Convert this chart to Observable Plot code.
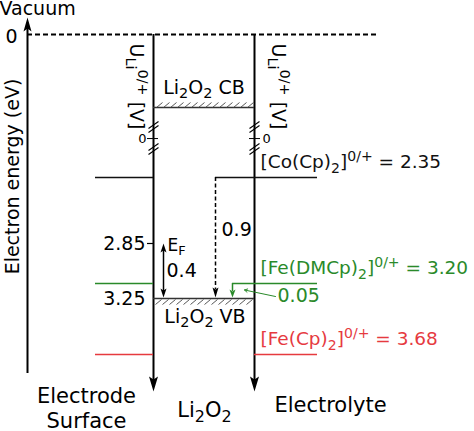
<!DOCTYPE html>
<html><head><meta charset="utf-8">
<script src="https://cdn.jsdelivr.net/npm/d3@7"></script>
<script src="https://cdn.jsdelivr.net/npm/@observablehq/plot@0.6"></script>
<style>html,body{margin:0;padding:0;background:#fff;} #chart{width:474px;height:431px;overflow:hidden}</style>
</head><body><div id="chart"></div>
<script>
// ---------------- data ----------------
const couples = ["[Co(Cp)_{2}]^{0/+}", "[Fe(DMCp)_{2}]^{0/+}", "[Fe(Cp)_{2}]^{0/+}"];
const coupleValues = [2.35, 3.20, 3.68];
const vacuumLevel = 0;
const fermiLevel = 2.85;
const vbLevel = 3.25;
const cbLevel = 1.2;        // schematic position (not labelled in the figure)
const liZero = 1.71;        // schematic position of U_Li = 0 (axis break)
const gapValues = [0.4, 0.9, 0.05];
const yTickValues = [0, 2.85, 3.25];
const yTickLabels = ["0", "2.85", "3.25"];
const columnLabels = ["Electrode", "Surface", "Li_{2}O_{2}", "Electrolyte"];
const bandLabels = ["Li_{2}O_{2} CB", "Li_{2}O_{2} VB"];
const axisTitle = "Electron energy (eV)";
const uLabel = "U_{Li}^{0/+} [V]";
const topLabel = "Vacuum";

// ---------------- layout / style ----------------
const coupleColours = ["#111111", "#2a8a2a", "#e63a3f"];
const GREEN = coupleColours[1];
const X = {axis: 27, electrode: 153, electrolyte: 254, levelL: 95, levelR: 317, vacEnd: 378, ef: 163, dashed: 215, green: 232};
const yDomain = [vacuumLevel, coupleValues[0], fermiLevel, coupleValues[1], vbLevel, coupleValues[2]];
const yRange = [34, 177, 243, 283, 298, 354];
const yAt = d3.scaleLinear().domain(yRange).range(yDomain); // pixel -> energy for layout extents

const levels = couples.map((name, i) => ({name, value: coupleValues[i]}));
const rightStart = [X.dashed, X.green, X.electrolyte];

// custom symbols
const headDown = (hw, len, notch) => ({draw(c) { c.moveTo(0, 0); c.lineTo(-hw, -len); c.lineTo(0, -len + notch); c.lineTo(hw, -len); c.closePath(); }});
const headUp = (hw, len, notch) => ({draw(c) { c.moveTo(0, 0); c.lineTo(-hw, len); c.lineTo(0, len - notch); c.lineTo(hw, len); c.closePath(); }});
const slashAbove = {draw(c) { c.moveTo(0, 0); c.lineTo(6, -5); }};
const slashBelow = {draw(c) { c.moveTo(-1, 6); c.lineTo(5, 1); }};
const breakMark = {draw(c) { c.moveTo(-5, 1); c.lineTo(5, -6); c.moveTo(-5, 5); c.lineTo(5, -2); }};

const hatchX = d3.range(X.electrode + 3, X.electrolyte - 4, 7);

function label(str, px, py, o = {}) {
  return Plot.text([str], {frameAnchor: "top-left", dx: px, dy: py, textAnchor: "start", lineAnchor: "middle", fontSize: 19, ...o});
}

const plot = Plot.plot({
  width: 474, height: 431, margin: 0,
  x: {type: "linear", domain: [0, 474], range: [0, 474], axis: null},
  y: {type: "linear", domain: yDomain, range: yRange, axis: null},
  color: {domain: couples, range: coupleColours},
  style: {fontFamily: "DejaVu Sans", background: "white", color: "black", overflow: "visible"},
  marks: [
    // vacuum level
    Plot.ruleY([vacuumLevel], {x1: X.axis, x2: X.vacEnd, stroke: "black", strokeWidth: 2, strokeDasharray: "5,3"}),
    // energy axis
    Plot.ruleX([X.axis], {y1: yAt(373), y2: yAt(28), stroke: "black", strokeWidth: 2}),
    Plot.dot([X.axis], {x: d => d, y: yAt(17), symbol: headUp(4, 14, 3), r: 5, fill: "black", stroke: "none"}),
    // electrode & electrolyte lines
    Plot.ruleX([X.electrode, X.electrolyte], {y1: vacuumLevel, y2: yAt(380), stroke: "black", strokeWidth: 2}),
    Plot.dot([X.electrode, X.electrolyte], {x: d => d, y: yAt(391), symbol: headDown(4.5, 15, 3), r: 5, fill: "black", stroke: "none"}),
    // axis breaks
    Plot.dot([X.electrode, X.electrolyte], {x: d => d, y: yAt(127), symbol: breakMark, r: 5, fill: "none", stroke: "black", strokeWidth: 1.1}),
    Plot.dot([X.electrode, X.electrolyte], {x: d => d, y: yAt(149), symbol: breakMark, r: 5, fill: "none", stroke: "black", strokeWidth: 1.1}),
    Plot.ruleY([liZero], {x1: X.electrode - 6, x2: X.electrode + 5, stroke: "black", strokeWidth: 1}),
    Plot.ruleY([liZero], {x1: X.electrolyte - 5, x2: X.electrolyte + 6, stroke: "black", strokeWidth: 1}),
    Plot.text([liZero], {x: X.electrode - 7, y: d => d, text: () => "0", textAnchor: "end", fontSize: 13}),
    Plot.text([liZero], {x: X.electrolyte + 8, y: d => d, text: () => "0", textAnchor: "start", fontSize: 13}),
    // Li2O2 bands
    Plot.ruleY([cbLevel, vbLevel], {x1: X.electrode, x2: X.electrolyte, stroke: "#333", strokeWidth: 1.3}),
    Plot.dot(hatchX, {x: d => d, y: cbLevel, symbol: slashAbove, r: 4, fill: "none", stroke: "#444", strokeWidth: 0.9}),
    Plot.dot(hatchX, {x: d => d, y: vbLevel, symbol: slashBelow, r: 4, fill: "none", stroke: "#444", strokeWidth: 0.9}),
    Plot.text([cbLevel], {x: (X.electrode + X.electrolyte) / 2, y: d => d, dy: -20, text: () => bandLabels[0], textAnchor: "middle", fontSize: 19}),
    Plot.text([vbLevel], {x: (X.electrode + X.electrolyte) / 2 + 1, y: d => d, dy: 18, text: () => bandLabels[1], textAnchor: "middle", fontSize: 19}),
    // redox couple levels
    Plot.ruleY(levels, {y: "value", x1: X.levelL, x2: X.electrode, stroke: "name", strokeWidth: 1.6}),
    Plot.ruleY(levels, {y: "value", x1: (d, i) => rightStart[i], x2: X.levelR, stroke: "name", strokeWidth: 1.6}),
    Plot.text(levels, {x: 260, y: "value", dy: -15, text: d => `${d.name} = ${d.value.toFixed(2)}`, fill: "name", textAnchor: "start", fontSize: 18.5}),
    // y tick labels
    Plot.text([yTickValues[0]], {x: 11, y: d => d, dy: 2, text: () => yTickLabels[0], textAnchor: "middle", fontSize: 19}),
    Plot.text(yTickValues.slice(1), {x: 145, y: d => d, text: (d, i) => yTickLabels[i + 1], textAnchor: "end", fontSize: 19}),
    Plot.ruleY([fermiLevel], {x1: 147, x2: X.electrode, stroke: "black", strokeWidth: 1.2}),
    // Fermi level double arrow (0.4)
    Plot.ruleX([X.ef], {y1: yAt(250), y2: yAt(291), stroke: "black", strokeWidth: 1.5}),
    Plot.dot([X.ef], {x: d => d, y: fermiLevel, symbol: headUp(3, 9, 2), r: 4, fill: "black", stroke: "none"}),
    Plot.dot([X.ef], {x: d => d, y: yAt(297), symbol: headDown(3, 9, 2), r: 4, fill: "black", stroke: "none"}),
    // dashed arrow (0.9)
    Plot.ruleX([X.dashed], {y1: coupleValues[0], y2: yAt(289), stroke: "black", strokeWidth: 1.5, strokeDasharray: "4,2.5"}),
    Plot.dot([X.dashed], {x: d => d, y: yAt(297), symbol: headDown(3, 10, 2), r: 4, fill: "black", stroke: "none"}),
    // green arrow (0.05)
    Plot.ruleX([X.green], {y1: coupleValues[1], y2: yAt(291), stroke: GREEN, strokeWidth: 1.5}),
    Plot.dot([X.green], {x: d => d, y: yAt(297), symbol: headDown(3, 8, 2), r: 4, fill: GREEN, stroke: "none"}),
    Plot.arrow([0], {x1: 275, y1: yAt(296), x2: 244, y2: yAt(289.5), stroke: GREEN, strokeWidth: 1, headLength: 5}),
    // gap labels
    label(`E_{F}`, 167, 245, {fontSize: 17}),
    label(String(gapValues[0]), 166, 270),
    label(String(gapValues[1]), 221, 229),
    label(String(gapValues[2]), 277, 295, {fill: GREEN}),
    // U_Li labels
    label(uLabel, 136, 43, {rotate: 90}),
    label(uLabel, 278, 43, {rotate: 90}),
    // axis title & vacuum
    label(axisTitle, 12, 176, {rotate: -90, textAnchor: "middle"}),
    label(topLabel, -1, 8),
    // bottom labels
    label(columnLabels[0], 86, 396, {textAnchor: "middle", fontSize: 21}),
    label(columnLabels[1], 86, 421, {textAnchor: "middle", fontSize: 21}),
    label(columnLabels[2], 204, 410, {textAnchor: "middle", fontSize: 21}),
    label(columnLabels[3], 330, 405, {textAnchor: "middle", fontSize: 21})
  ]
});

document.getElementById("chart").appendChild(plot);

// turn _{..} and ^{..} into real sub/superscript tspans
function richify(root) {
  const NS = "http://www.w3.org/2000/svg";
  root.querySelectorAll("text").forEach(t => {
    const s = t.textContent;
    if (!/[_^]\{/.test(s)) return;
    const base = parseFloat(getComputedStyle(t).fontSize) || 16;
    while (t.firstChild) t.removeChild(t.firstChild);
    let shift = 0;
    const add = (str, kind) => {
      const ts = document.createElementNS(NS, "tspan");
      const target = kind === "_" ? base * 0.24 : kind === "^" ? -base * 0.42 : 0;
      const d = target - shift;
      if (d) ts.setAttribute("dy", d.toFixed(2));
      shift = target;
      if (kind) ts.setAttribute("font-size", (base * 0.76).toFixed(2));
      ts.textContent = str;
      t.appendChild(ts);
    };
    const re = /([_^])\{([^}]*)\}/g;
    let last = 0, m;
    while ((m = re.exec(s))) {
      if (m.index > last) add(s.slice(last, m.index), null);
      add(m[2], m[1]);
      last = re.lastIndex;
    }
    if (last < s.length) add(s.slice(last), null);
  });
}
richify(plot);
</script>
</body></html>
